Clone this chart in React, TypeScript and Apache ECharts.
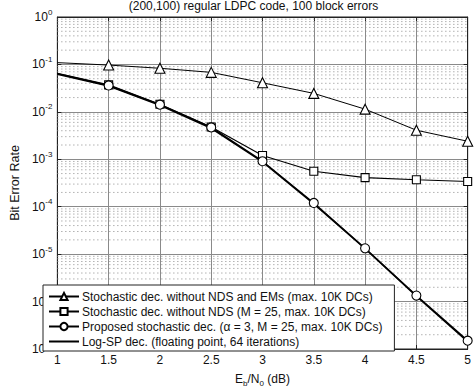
import React, { useEffect, useRef } from "react";
import * as echarts from "echarts";

const titleText = "(200,100) regular LDPC code, 100 block errors";
const ebn0 = [1, 1.5, 2, 2.5, 3, 3.5, 4, 4.5, 5];
const berNoNdsNoEm = [0.109, 0.097, 0.083, 0.068, 0.041, 0.0245, 0.0114, 0.0041, 0.0024];
const berNoNds = [0.065, 0.037, 0.0145, 0.0048, 0.0012, 0.00056, 0.00041, 0.00037, 0.00034];
const berProposed = [0.064, 0.036, 0.0142, 0.0047, 0.00091, 0.00012, 1.33e-5, 1.34e-6, 1.5e-7];
const berLogSP = [0.062, 0.035, 0.0138, 0.0045, 0.00088, 0.000115, 1.3e-5, 1.3e-6, 1.42e-7];
const seriesNames = [
  "Stochastic dec. without NDS and EMs (max. 10K DCs)",
  "Stochastic dec. without NDS (M = 25, max. 10K DCs)",
  "Proposed stochastic dec. (\u03b1 = 3, M = 25, max. 10K DCs)",
  "Log-SP dec. (floating point, 64 iterations)",
];
const decadeExponents = [-7, -6, -5, -4, -3, -2, -1];
const minorMultipliers = [2, 3, 4, 5, 6, 7, 8, 9];

const FONT = "'Liberation Sans', Arial, sans-serif";

function toData(ys: number[]) {
  return ebn0.map((x, i) =>
    i === 0 ? { value: [x, ys[i]], symbol: "none" } : { value: [x, ys[i]] }
  );
}

export default function App() {
  const ref = useRef<HTMLDivElement>(null);
  useEffect(() => {
    if (!ref.current) return;
    const chart = echarts.init(ref.current, undefined, { renderer: "svg" });
    const xMin = ebn0[0];
    const xMax = ebn0[ebn0.length - 1];
    const minorData: any[] = [];
    decadeExponents.forEach((e) =>
      minorMultipliers.forEach((m) => {
        const v = m * Math.pow(10, e);
        minorData.push([xMin, v], [xMax, v], [xMax, "-"]);
      })
    );
    const markerStyle = { color: "#fff", borderColor: "#000", borderWidth: 1.1 };
    const tickStyle = { inside: true, length: 4, lineStyle: { color: "#222" } };
    chart.setOption({
      animation: false,
      backgroundColor: "#fff",
      textStyle: { fontFamily: FONT, color: "#000" },
      title: {
        text: titleText,
        left: 253.5,
        textAlign: "center",
        top: 0,
        padding: 0,
        textStyle: { fontFamily: FONT, fontSize: 12, fontWeight: "normal", color: "#111" },
      },
      grid: {
        left: 39,
        right: 6,
        top: 17,
        bottom: 35,
        show: true,
        borderColor: "#222",
        borderWidth: 1,
        backgroundColor: "transparent",
      },
      xAxis: [
        {
          type: "value",
          min: 1,
          max: 5,
          interval: 0.5,
          name: "{n|E}{sub|b}{n|/N}{sub|0}{n| (dB)}",
          nameLocation: "middle",
          nameGap: 22,
          nameTextStyle: {
            rich: {
              n: { fontSize: 12, fontFamily: FONT, color: "#111" },
              sub: { fontSize: 8, fontFamily: FONT, color: "#111", padding: [8, 0, 0, 0] },
            },
          },
          axisLine: { show: true, lineStyle: { color: "#222" } },
          axisTick: tickStyle,
          axisLabel: { fontSize: 12, color: "#111", fontFamily: FONT, margin: 5 },
          splitLine: { show: true, lineStyle: { color: "#8a8a8a", width: 1 } },
        },
        {
          type: "value",
          position: "top",
          min: 1,
          max: 5,
          interval: 0.5,
          axisLine: { show: true, lineStyle: { color: "#222" } },
          axisTick: tickStyle,
          axisLabel: { show: false },
          splitLine: { show: false },
        },
      ],
      yAxis: [
        {
          type: "log",
          logBase: 10,
          min: 1e-7,
          max: 1,
          interval: 1,
          name: "Bit Error Rate",
          nameLocation: "middle",
          nameGap: 29,
          nameTextStyle: { fontSize: 12.5, fontFamily: FONT, color: "#111" },
          axisLine: { show: true, lineStyle: { color: "#222" } },
          axisTick: tickStyle,
          axisLabel: {
            margin: 5,
            formatter: (v: number) => {
              const e = Math.round(Math.log10(v));
              return "{b|10}{s|" + e + "}";
            },
            rich: {
              b: { fontSize: 12, fontFamily: FONT, color: "#111", lineHeight: 18 },
              s: { fontSize: 8, fontFamily: FONT, color: "#111", lineHeight: 8, verticalAlign: "top" },
            },
          },
          splitLine: { show: true, lineStyle: { color: "#8a8a8a", width: 1 } },
        },
        {
          type: "log",
          logBase: 10,
          position: "right",
          min: 1e-7,
          max: 1,
          interval: 1,
          axisLine: { show: true, lineStyle: { color: "#222" } },
          axisTick: tickStyle,
          axisLabel: { show: false },
          splitLine: { show: false },
        },
      ],
      legend: {
        orient: "vertical",
        left: 43,
        top: 285,
        padding: [5, 12, 3, 5],
        itemWidth: 30,
        itemHeight: 9,
        itemGap: 2,
        selectedMode: false,
        backgroundColor: "#fff",
        borderColor: "#222",
        borderWidth: 1,
        borderRadius: 0,
        textStyle: { fontSize: 12, fontFamily: FONT, color: "#111", lineHeight: 13, padding: [0, 0, 0, -2] },
        data: seriesNames,
      },
      series: [
        {
          name: "minor-grid",
          type: "line",
          data: minorData,
          silent: true,
          symbol: "none",
          connectNulls: false,
          z: 1,
          lineStyle: { color: "#8a8a8a", type: [1, 3], width: 1 },
        },
        {
          name: seriesNames[0],
          type: "line",
          data: toData(berNoNdsNoEm),
          symbol: "triangle",
          symbolSize: 10,
          lineStyle: { color: "#000", width: 1 },
          itemStyle: markerStyle,
          z: 5,
        },
        {
          name: seriesNames[1],
          type: "line",
          data: toData(berNoNds),
          symbol: "rect",
          symbolSize: 8,
          lineStyle: { color: "#000", width: 1.2 },
          itemStyle: markerStyle,
          z: 5,
        },
        {
          name: seriesNames[2],
          type: "line",
          data: toData(berProposed),
          symbol: "circle",
          symbolSize: 9,
          lineStyle: { color: "#000", width: 1.5 },
          itemStyle: markerStyle,
          z: 6,
        },
        {
          name: seriesNames[3],
          type: "line",
          data: ebn0.map((x, i) => [x, berLogSP[i]]),
          symbol: "circle",
          showSymbol: false,
          lineStyle: { color: "#000", width: 1.5 },
          itemStyle: { color: "rgba(0,0,0,0)", borderWidth: 0 },
          z: 4,
        },
      ],
    });
    return () => chart.dispose();
  }, []);
  return (
    <div
      ref={ref}
      style={{ position: "fixed", left: 0, top: 0, width: 474, height: 392 }}
    />
  );
}
